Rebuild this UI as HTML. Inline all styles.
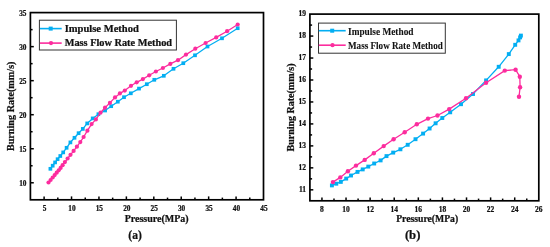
<!DOCTYPE html>
<html><head><meta charset="utf-8"><title>Burning rate vs pressure</title>
<style>
html,body{margin:0;padding:0;background:#fff;}
body{width:550px;height:247px;overflow:hidden;}
svg{display:block;}
text{font-family:'Liberation Serif', serif;font-weight:bold;fill:#111;stroke:#111;stroke-width:0.22px;}
.tl{font-size:7.3px;}
.al{font-size:9.4px;}
.lg{font-size:9.8px;}
.cap{font-size:11.5px;}
</style></head>
<body>
<svg width="550" height="247" viewBox="0 0 550 247">
<rect width="550" height="247" fill="#fff"/>
<line x1="44.11" y1="199.80" x2="44.11" y2="196.40" stroke="#000" stroke-width="1.5"/>
<line x1="57.82" y1="199.80" x2="57.82" y2="197.60" stroke="#000" stroke-width="1.5"/>
<line x1="71.54" y1="199.80" x2="71.54" y2="196.40" stroke="#000" stroke-width="1.5"/>
<line x1="85.25" y1="199.80" x2="85.25" y2="197.60" stroke="#000" stroke-width="1.5"/>
<line x1="98.96" y1="199.80" x2="98.96" y2="196.40" stroke="#000" stroke-width="1.5"/>
<line x1="112.67" y1="199.80" x2="112.67" y2="197.60" stroke="#000" stroke-width="1.5"/>
<line x1="126.38" y1="199.80" x2="126.38" y2="196.40" stroke="#000" stroke-width="1.5"/>
<line x1="140.09" y1="199.80" x2="140.09" y2="197.60" stroke="#000" stroke-width="1.5"/>
<line x1="153.81" y1="199.80" x2="153.81" y2="196.40" stroke="#000" stroke-width="1.5"/>
<line x1="167.52" y1="199.80" x2="167.52" y2="197.60" stroke="#000" stroke-width="1.5"/>
<line x1="181.23" y1="199.80" x2="181.23" y2="196.40" stroke="#000" stroke-width="1.5"/>
<line x1="194.94" y1="199.80" x2="194.94" y2="197.60" stroke="#000" stroke-width="1.5"/>
<line x1="208.65" y1="199.80" x2="208.65" y2="196.40" stroke="#000" stroke-width="1.5"/>
<line x1="222.36" y1="199.80" x2="222.36" y2="197.60" stroke="#000" stroke-width="1.5"/>
<line x1="236.08" y1="199.80" x2="236.08" y2="196.40" stroke="#000" stroke-width="1.5"/>
<line x1="249.79" y1="199.80" x2="249.79" y2="197.60" stroke="#000" stroke-width="1.5"/>
<line x1="30.40" y1="182.78" x2="33.80" y2="182.78" stroke="#000" stroke-width="1.5"/>
<line x1="30.40" y1="165.76" x2="32.60" y2="165.76" stroke="#000" stroke-width="1.5"/>
<line x1="30.40" y1="148.75" x2="33.80" y2="148.75" stroke="#000" stroke-width="1.5"/>
<line x1="30.40" y1="131.73" x2="32.60" y2="131.73" stroke="#000" stroke-width="1.5"/>
<line x1="30.40" y1="114.71" x2="33.80" y2="114.71" stroke="#000" stroke-width="1.5"/>
<line x1="30.40" y1="97.69" x2="32.60" y2="97.69" stroke="#000" stroke-width="1.5"/>
<line x1="30.40" y1="80.67" x2="33.80" y2="80.67" stroke="#000" stroke-width="1.5"/>
<line x1="30.40" y1="63.65" x2="32.60" y2="63.65" stroke="#000" stroke-width="1.5"/>
<line x1="30.40" y1="46.64" x2="33.80" y2="46.64" stroke="#000" stroke-width="1.5"/>
<line x1="30.40" y1="29.62" x2="32.60" y2="29.62" stroke="#000" stroke-width="1.5"/>
<rect x="30.4" y="12.6" width="233.10" height="187.20" fill="none" stroke="#000" stroke-width="1.7"/>
<text x="44.51" y="211.00" text-anchor="middle" class="tl" style="font-size:7.3px">5</text>
<text x="71.94" y="211.00" text-anchor="middle" class="tl" style="font-size:7.3px">10</text>
<text x="99.36" y="211.00" text-anchor="middle" class="tl" style="font-size:7.3px">15</text>
<text x="126.78" y="211.00" text-anchor="middle" class="tl" style="font-size:7.3px">20</text>
<text x="154.21" y="211.00" text-anchor="middle" class="tl" style="font-size:7.3px">25</text>
<text x="181.63" y="211.00" text-anchor="middle" class="tl" style="font-size:7.3px">30</text>
<text x="209.05" y="211.00" text-anchor="middle" class="tl" style="font-size:7.3px">35</text>
<text x="236.48" y="211.00" text-anchor="middle" class="tl" style="font-size:7.3px">40</text>
<text x="263.90" y="211.00" text-anchor="middle" class="tl" style="font-size:7.3px">45</text>
<text x="26.50" y="185.88" text-anchor="end" class="tl" style="font-size:7.3px">10</text>
<text x="26.50" y="151.85" text-anchor="end" class="tl" style="font-size:7.3px">15</text>
<text x="26.50" y="117.81" text-anchor="end" class="tl" style="font-size:7.3px">20</text>
<text x="26.50" y="83.77" text-anchor="end" class="tl" style="font-size:7.3px">25</text>
<text x="26.50" y="49.74" text-anchor="end" class="tl" style="font-size:7.3px">30</text>
<text x="26.50" y="15.70" text-anchor="end" class="tl" style="font-size:7.3px">35</text>
<path d="M50.40,168.80 L52.70,165.70 L55.10,162.40 L57.60,159.20 L60.30,156.00 L63.20,152.40 L66.60,147.80 L70.40,142.40 L74.50,137.80 L78.60,133.20 L82.80,128.90 L87.20,123.40 L92.70,118.40 L98.40,114.20 L105.10,110.50 L111.20,106.20 L117.80,101.70 L124.00,97.20 L130.80,93.30 L139.00,88.60 L146.80,84.20 L154.30,79.80 L163.80,75.80 L173.50,68.80 L183.30,63.20 L195.00,55.30 L207.50,46.50 L222.00,38.30 L237.70,28.20" fill="none" stroke="#03AEF2" stroke-width="1.3" stroke-linejoin="round"/>
<rect x="48.55" y="166.95" width="3.7" height="3.7" fill="#03AEF2"/>
<rect x="50.85" y="163.85" width="3.7" height="3.7" fill="#03AEF2"/>
<rect x="53.25" y="160.55" width="3.7" height="3.7" fill="#03AEF2"/>
<rect x="55.75" y="157.35" width="3.7" height="3.7" fill="#03AEF2"/>
<rect x="58.45" y="154.15" width="3.7" height="3.7" fill="#03AEF2"/>
<rect x="61.35" y="150.55" width="3.7" height="3.7" fill="#03AEF2"/>
<rect x="64.75" y="145.95" width="3.7" height="3.7" fill="#03AEF2"/>
<rect x="68.55" y="140.55" width="3.7" height="3.7" fill="#03AEF2"/>
<rect x="72.65" y="135.95" width="3.7" height="3.7" fill="#03AEF2"/>
<rect x="76.75" y="131.35" width="3.7" height="3.7" fill="#03AEF2"/>
<rect x="80.95" y="127.05" width="3.7" height="3.7" fill="#03AEF2"/>
<rect x="85.35" y="121.55" width="3.7" height="3.7" fill="#03AEF2"/>
<rect x="90.85" y="116.55" width="3.7" height="3.7" fill="#03AEF2"/>
<rect x="96.55" y="112.35" width="3.7" height="3.7" fill="#03AEF2"/>
<rect x="103.25" y="108.65" width="3.7" height="3.7" fill="#03AEF2"/>
<rect x="109.35" y="104.35" width="3.7" height="3.7" fill="#03AEF2"/>
<rect x="115.95" y="99.85" width="3.7" height="3.7" fill="#03AEF2"/>
<rect x="122.15" y="95.35" width="3.7" height="3.7" fill="#03AEF2"/>
<rect x="128.95" y="91.45" width="3.7" height="3.7" fill="#03AEF2"/>
<rect x="137.15" y="86.75" width="3.7" height="3.7" fill="#03AEF2"/>
<rect x="144.95" y="82.35" width="3.7" height="3.7" fill="#03AEF2"/>
<rect x="152.45" y="77.95" width="3.7" height="3.7" fill="#03AEF2"/>
<rect x="161.95" y="73.95" width="3.7" height="3.7" fill="#03AEF2"/>
<rect x="171.65" y="66.95" width="3.7" height="3.7" fill="#03AEF2"/>
<rect x="181.45" y="61.35" width="3.7" height="3.7" fill="#03AEF2"/>
<rect x="193.15" y="53.45" width="3.7" height="3.7" fill="#03AEF2"/>
<rect x="205.65" y="44.65" width="3.7" height="3.7" fill="#03AEF2"/>
<rect x="220.15" y="36.45" width="3.7" height="3.7" fill="#03AEF2"/>
<rect x="235.85" y="26.35" width="3.7" height="3.7" fill="#03AEF2"/>
<path d="M48.50,182.50 L50.60,180.00 L52.70,177.50 L54.70,175.10 L56.70,172.70 L58.70,170.30 L60.60,167.90 L62.60,165.20 L64.90,162.10 L67.60,158.50 L70.50,154.80 L73.60,150.90 L76.90,146.70 L80.30,142.10 L83.60,137.00 L87.40,130.70 L91.60,124.10 L95.90,119.40 L100.50,112.70 L105.00,107.70 L109.90,102.90 L115.00,97.40 L119.90,93.40 L124.80,90.60 L131.00,85.80 L136.70,82.30 L142.90,79.10 L149.20,75.30 L155.90,71.50 L162.90,68.00 L170.30,63.90 L178.00,60.20 L186.00,54.60 L195.30,48.70 L205.60,43.00 L216.20,37.40 L227.10,31.20 L237.70,24.50" fill="none" stroke="#FC2C9E" stroke-width="1.3" stroke-linejoin="round"/>
<circle cx="48.50" cy="182.50" r="2.1" fill="#FC2C9E"/>
<circle cx="50.60" cy="180.00" r="2.1" fill="#FC2C9E"/>
<circle cx="52.70" cy="177.50" r="2.1" fill="#FC2C9E"/>
<circle cx="54.70" cy="175.10" r="2.1" fill="#FC2C9E"/>
<circle cx="56.70" cy="172.70" r="2.1" fill="#FC2C9E"/>
<circle cx="58.70" cy="170.30" r="2.1" fill="#FC2C9E"/>
<circle cx="60.60" cy="167.90" r="2.1" fill="#FC2C9E"/>
<circle cx="62.60" cy="165.20" r="2.1" fill="#FC2C9E"/>
<circle cx="64.90" cy="162.10" r="2.1" fill="#FC2C9E"/>
<circle cx="67.60" cy="158.50" r="2.1" fill="#FC2C9E"/>
<circle cx="70.50" cy="154.80" r="2.1" fill="#FC2C9E"/>
<circle cx="73.60" cy="150.90" r="2.1" fill="#FC2C9E"/>
<circle cx="76.90" cy="146.70" r="2.1" fill="#FC2C9E"/>
<circle cx="80.30" cy="142.10" r="2.1" fill="#FC2C9E"/>
<circle cx="83.60" cy="137.00" r="2.1" fill="#FC2C9E"/>
<circle cx="87.40" cy="130.70" r="2.1" fill="#FC2C9E"/>
<circle cx="91.60" cy="124.10" r="2.1" fill="#FC2C9E"/>
<circle cx="95.90" cy="119.40" r="2.1" fill="#FC2C9E"/>
<circle cx="100.50" cy="112.70" r="2.1" fill="#FC2C9E"/>
<circle cx="105.00" cy="107.70" r="2.1" fill="#FC2C9E"/>
<circle cx="109.90" cy="102.90" r="2.1" fill="#FC2C9E"/>
<circle cx="115.00" cy="97.40" r="2.1" fill="#FC2C9E"/>
<circle cx="119.90" cy="93.40" r="2.1" fill="#FC2C9E"/>
<circle cx="124.80" cy="90.60" r="2.1" fill="#FC2C9E"/>
<circle cx="131.00" cy="85.80" r="2.1" fill="#FC2C9E"/>
<circle cx="136.70" cy="82.30" r="2.1" fill="#FC2C9E"/>
<circle cx="142.90" cy="79.10" r="2.1" fill="#FC2C9E"/>
<circle cx="149.20" cy="75.30" r="2.1" fill="#FC2C9E"/>
<circle cx="155.90" cy="71.50" r="2.1" fill="#FC2C9E"/>
<circle cx="162.90" cy="68.00" r="2.1" fill="#FC2C9E"/>
<circle cx="170.30" cy="63.90" r="2.1" fill="#FC2C9E"/>
<circle cx="178.00" cy="60.20" r="2.1" fill="#FC2C9E"/>
<circle cx="186.00" cy="54.60" r="2.1" fill="#FC2C9E"/>
<circle cx="195.30" cy="48.70" r="2.1" fill="#FC2C9E"/>
<circle cx="205.60" cy="43.00" r="2.1" fill="#FC2C9E"/>
<circle cx="216.20" cy="37.40" r="2.1" fill="#FC2C9E"/>
<circle cx="227.10" cy="31.20" r="2.1" fill="#FC2C9E"/>
<circle cx="237.70" cy="24.50" r="2.1" fill="#FC2C9E"/>
<rect x="39.4" y="20.2" width="137.0" height="29.8" fill="#fff" stroke="#333" stroke-width="1"/>
<line x1="39.9" y1="28.6" x2="61.7" y2="28.6" stroke="#03AEF2" stroke-width="1.6"/>
<rect x="48.7" y="26.6" width="4.0" height="4.0" fill="#03AEF2"/>
<text x="64.7" y="31.90" class="lg" style="font-size:9.8px;stroke-width:0.22px" textLength="74.2" lengthAdjust="spacingAndGlyphs">Impulse Method</text>
<line x1="39.9" y1="43.1" x2="61.7" y2="43.1" stroke="#FC2C9E" stroke-width="1.6"/>
<circle cx="51.0" cy="43.1" r="2.15" fill="#FC2C9E"/>
<text x="64.7" y="46.40" class="lg" style="font-size:9.8px;stroke-width:0.22px" textLength="107.4" lengthAdjust="spacingAndGlyphs">Mass Flow Rate Method</text>
<text transform="translate(14.2,106.3) rotate(-90)" text-anchor="middle" class="al" textLength="89.6" lengthAdjust="spacingAndGlyphs">Burning Rate(mm/s)</text>
<text x="124.7" y="221.7" class="al" textLength="64" lengthAdjust="spacingAndGlyphs">Pressure(MPa)</text>
<text x="128.3" y="239.3" class="cap" textLength="13.5" lengthAdjust="spacingAndGlyphs">(a)</text>
<line x1="321.95" y1="200.80" x2="321.95" y2="197.40" stroke="#000" stroke-width="1.5"/>
<line x1="333.99" y1="200.80" x2="333.99" y2="198.60" stroke="#000" stroke-width="1.5"/>
<line x1="346.04" y1="200.80" x2="346.04" y2="197.40" stroke="#000" stroke-width="1.5"/>
<line x1="358.09" y1="200.80" x2="358.09" y2="198.60" stroke="#000" stroke-width="1.5"/>
<line x1="370.14" y1="200.80" x2="370.14" y2="197.40" stroke="#000" stroke-width="1.5"/>
<line x1="382.18" y1="200.80" x2="382.18" y2="198.60" stroke="#000" stroke-width="1.5"/>
<line x1="394.23" y1="200.80" x2="394.23" y2="197.40" stroke="#000" stroke-width="1.5"/>
<line x1="406.28" y1="200.80" x2="406.28" y2="198.60" stroke="#000" stroke-width="1.5"/>
<line x1="418.33" y1="200.80" x2="418.33" y2="197.40" stroke="#000" stroke-width="1.5"/>
<line x1="430.37" y1="200.80" x2="430.37" y2="198.60" stroke="#000" stroke-width="1.5"/>
<line x1="442.42" y1="200.80" x2="442.42" y2="197.40" stroke="#000" stroke-width="1.5"/>
<line x1="454.47" y1="200.80" x2="454.47" y2="198.60" stroke="#000" stroke-width="1.5"/>
<line x1="466.52" y1="200.80" x2="466.52" y2="197.40" stroke="#000" stroke-width="1.5"/>
<line x1="478.56" y1="200.80" x2="478.56" y2="198.60" stroke="#000" stroke-width="1.5"/>
<line x1="490.61" y1="200.80" x2="490.61" y2="197.40" stroke="#000" stroke-width="1.5"/>
<line x1="502.66" y1="200.80" x2="502.66" y2="198.60" stroke="#000" stroke-width="1.5"/>
<line x1="514.71" y1="200.80" x2="514.71" y2="197.40" stroke="#000" stroke-width="1.5"/>
<line x1="526.75" y1="200.80" x2="526.75" y2="198.60" stroke="#000" stroke-width="1.5"/>
<line x1="309.90" y1="189.82" x2="313.30" y2="189.82" stroke="#000" stroke-width="1.5"/>
<line x1="309.90" y1="178.84" x2="312.10" y2="178.84" stroke="#000" stroke-width="1.5"/>
<line x1="309.90" y1="167.85" x2="313.30" y2="167.85" stroke="#000" stroke-width="1.5"/>
<line x1="309.90" y1="156.87" x2="312.10" y2="156.87" stroke="#000" stroke-width="1.5"/>
<line x1="309.90" y1="145.89" x2="313.30" y2="145.89" stroke="#000" stroke-width="1.5"/>
<line x1="309.90" y1="134.91" x2="312.10" y2="134.91" stroke="#000" stroke-width="1.5"/>
<line x1="309.90" y1="123.92" x2="313.30" y2="123.92" stroke="#000" stroke-width="1.5"/>
<line x1="309.90" y1="112.94" x2="312.10" y2="112.94" stroke="#000" stroke-width="1.5"/>
<line x1="309.90" y1="101.96" x2="313.30" y2="101.96" stroke="#000" stroke-width="1.5"/>
<line x1="309.90" y1="90.98" x2="312.10" y2="90.98" stroke="#000" stroke-width="1.5"/>
<line x1="309.90" y1="79.99" x2="313.30" y2="79.99" stroke="#000" stroke-width="1.5"/>
<line x1="309.90" y1="69.01" x2="312.10" y2="69.01" stroke="#000" stroke-width="1.5"/>
<line x1="309.90" y1="58.03" x2="313.30" y2="58.03" stroke="#000" stroke-width="1.5"/>
<line x1="309.90" y1="47.05" x2="312.10" y2="47.05" stroke="#000" stroke-width="1.5"/>
<line x1="309.90" y1="36.06" x2="313.30" y2="36.06" stroke="#000" stroke-width="1.5"/>
<line x1="309.90" y1="25.08" x2="312.10" y2="25.08" stroke="#000" stroke-width="1.5"/>
<rect x="309.9" y="14.1" width="228.90" height="186.70" fill="none" stroke="#000" stroke-width="1.7"/>
<text x="321.95" y="212.00" text-anchor="middle" class="tl" style="font-size:7.5px">8</text>
<text x="346.04" y="212.00" text-anchor="middle" class="tl" style="font-size:7.5px">10</text>
<text x="370.14" y="212.00" text-anchor="middle" class="tl" style="font-size:7.5px">12</text>
<text x="394.23" y="212.00" text-anchor="middle" class="tl" style="font-size:7.5px">14</text>
<text x="418.33" y="212.00" text-anchor="middle" class="tl" style="font-size:7.5px">16</text>
<text x="442.42" y="212.00" text-anchor="middle" class="tl" style="font-size:7.5px">18</text>
<text x="466.52" y="212.00" text-anchor="middle" class="tl" style="font-size:7.5px">20</text>
<text x="490.61" y="212.00" text-anchor="middle" class="tl" style="font-size:7.5px">22</text>
<text x="514.71" y="212.00" text-anchor="middle" class="tl" style="font-size:7.5px">24</text>
<text x="538.80" y="212.00" text-anchor="middle" class="tl" style="font-size:7.5px">26</text>
<text x="306.00" y="191.72" text-anchor="end" class="tl" style="font-size:7.5px">11</text>
<text x="306.00" y="169.75" text-anchor="end" class="tl" style="font-size:7.5px">12</text>
<text x="306.00" y="147.79" text-anchor="end" class="tl" style="font-size:7.5px">13</text>
<text x="306.00" y="125.82" text-anchor="end" class="tl" style="font-size:7.5px">14</text>
<text x="306.00" y="103.86" text-anchor="end" class="tl" style="font-size:7.5px">15</text>
<text x="306.00" y="81.89" text-anchor="end" class="tl" style="font-size:7.5px">16</text>
<text x="306.00" y="59.93" text-anchor="end" class="tl" style="font-size:7.5px">17</text>
<text x="306.00" y="37.96" text-anchor="end" class="tl" style="font-size:7.5px">18</text>
<text x="306.00" y="16.00" text-anchor="end" class="tl" style="font-size:7.5px">19</text>
<path d="M331.90,185.40 L336.30,183.70 L340.80,181.90 L346.20,178.60 L351.00,175.50 L357.50,171.90 L362.70,169.40 L368.30,166.60 L374.20,163.50 L380.60,160.40 L386.50,156.10 L393.20,152.60 L400.40,149.30 L407.70,144.80 L415.50,139.20 L423.10,133.60 L429.60,128.50 L435.60,123.30 L442.30,118.00 L450.20,112.30 L461.00,104.20 L473.00,94.00 L486.10,80.40 L498.70,66.80 L508.80,54.10 L515.20,44.80 L518.50,40.40 L520.10,37.40 L520.90,35.60" fill="none" stroke="#03AEF2" stroke-width="1.3" stroke-linejoin="round"/>
<rect x="329.95" y="183.45" width="3.9" height="3.9" fill="#03AEF2"/>
<rect x="334.35" y="181.75" width="3.9" height="3.9" fill="#03AEF2"/>
<rect x="338.85" y="179.95" width="3.9" height="3.9" fill="#03AEF2"/>
<rect x="344.25" y="176.65" width="3.9" height="3.9" fill="#03AEF2"/>
<rect x="349.05" y="173.55" width="3.9" height="3.9" fill="#03AEF2"/>
<rect x="355.55" y="169.95" width="3.9" height="3.9" fill="#03AEF2"/>
<rect x="360.75" y="167.45" width="3.9" height="3.9" fill="#03AEF2"/>
<rect x="366.35" y="164.65" width="3.9" height="3.9" fill="#03AEF2"/>
<rect x="372.25" y="161.55" width="3.9" height="3.9" fill="#03AEF2"/>
<rect x="378.65" y="158.45" width="3.9" height="3.9" fill="#03AEF2"/>
<rect x="384.55" y="154.15" width="3.9" height="3.9" fill="#03AEF2"/>
<rect x="391.25" y="150.65" width="3.9" height="3.9" fill="#03AEF2"/>
<rect x="398.45" y="147.35" width="3.9" height="3.9" fill="#03AEF2"/>
<rect x="405.75" y="142.85" width="3.9" height="3.9" fill="#03AEF2"/>
<rect x="413.55" y="137.25" width="3.9" height="3.9" fill="#03AEF2"/>
<rect x="421.15" y="131.65" width="3.9" height="3.9" fill="#03AEF2"/>
<rect x="427.65" y="126.55" width="3.9" height="3.9" fill="#03AEF2"/>
<rect x="433.65" y="121.35" width="3.9" height="3.9" fill="#03AEF2"/>
<rect x="440.35" y="116.05" width="3.9" height="3.9" fill="#03AEF2"/>
<rect x="448.25" y="110.35" width="3.9" height="3.9" fill="#03AEF2"/>
<rect x="459.05" y="102.25" width="3.9" height="3.9" fill="#03AEF2"/>
<rect x="471.05" y="92.05" width="3.9" height="3.9" fill="#03AEF2"/>
<rect x="484.15" y="78.45" width="3.9" height="3.9" fill="#03AEF2"/>
<rect x="496.75" y="64.85" width="3.9" height="3.9" fill="#03AEF2"/>
<rect x="506.85" y="52.15" width="3.9" height="3.9" fill="#03AEF2"/>
<rect x="513.25" y="42.85" width="3.9" height="3.9" fill="#03AEF2"/>
<rect x="516.55" y="38.45" width="3.9" height="3.9" fill="#03AEF2"/>
<rect x="518.15" y="35.45" width="3.9" height="3.9" fill="#03AEF2"/>
<rect x="518.95" y="33.65" width="3.9" height="3.9" fill="#03AEF2"/>
<path d="M332.90,182.10 L340.30,177.40 L347.90,171.20 L356.00,165.60 L364.70,159.90 L373.80,153.30 L383.70,146.10 L393.60,139.30 L404.70,132.20 L416.80,124.30 L428.00,118.60 L437.50,115.50 L449.20,109.10 L466.00,98.30 L486.10,82.80 L504.80,70.60 L515.60,69.70 L519.80,76.70 L520.10,87.20 L519.00,96.80" fill="none" stroke="#FC2C9E" stroke-width="1.3" stroke-linejoin="round"/>
<circle cx="332.90" cy="182.10" r="2.2" fill="#FC2C9E"/>
<circle cx="340.30" cy="177.40" r="2.2" fill="#FC2C9E"/>
<circle cx="347.90" cy="171.20" r="2.2" fill="#FC2C9E"/>
<circle cx="356.00" cy="165.60" r="2.2" fill="#FC2C9E"/>
<circle cx="364.70" cy="159.90" r="2.2" fill="#FC2C9E"/>
<circle cx="373.80" cy="153.30" r="2.2" fill="#FC2C9E"/>
<circle cx="383.70" cy="146.10" r="2.2" fill="#FC2C9E"/>
<circle cx="393.60" cy="139.30" r="2.2" fill="#FC2C9E"/>
<circle cx="404.70" cy="132.20" r="2.2" fill="#FC2C9E"/>
<circle cx="416.80" cy="124.30" r="2.2" fill="#FC2C9E"/>
<circle cx="428.00" cy="118.60" r="2.2" fill="#FC2C9E"/>
<circle cx="437.50" cy="115.50" r="2.2" fill="#FC2C9E"/>
<circle cx="449.20" cy="109.10" r="2.2" fill="#FC2C9E"/>
<circle cx="466.00" cy="98.30" r="2.2" fill="#FC2C9E"/>
<circle cx="486.10" cy="82.80" r="2.2" fill="#FC2C9E"/>
<circle cx="504.80" cy="70.60" r="2.2" fill="#FC2C9E"/>
<circle cx="515.60" cy="69.70" r="2.2" fill="#FC2C9E"/>
<circle cx="519.80" cy="76.70" r="2.2" fill="#FC2C9E"/>
<circle cx="520.10" cy="87.20" r="2.2" fill="#FC2C9E"/>
<circle cx="519.00" cy="96.80" r="2.2" fill="#FC2C9E"/>
<rect x="318.5" y="23.1" width="126.8" height="30.1" fill="#fff" stroke="#333" stroke-width="1"/>
<line x1="318.8" y1="30.7" x2="345.7" y2="30.7" stroke="#03AEF2" stroke-width="1.6"/>
<rect x="330.2" y="28.7" width="4.0" height="4.0" fill="#03AEF2"/>
<text x="348.0" y="34.80" class="lg" style="font-size:9.4px;stroke-width:0.08px" textLength="65.5" lengthAdjust="spacingAndGlyphs">Impulse Method</text>
<line x1="318.8" y1="45.2" x2="345.7" y2="45.2" stroke="#FC2C9E" stroke-width="1.6"/>
<circle cx="332.5" cy="45.2" r="2.15" fill="#FC2C9E"/>
<text x="348.0" y="49.30" class="lg" style="font-size:9.4px;stroke-width:0.08px" textLength="94.8" lengthAdjust="spacingAndGlyphs">Mass Flow Rate Method</text>
<text transform="translate(294.0,107.5) rotate(-90)" text-anchor="middle" class="al" textLength="88" lengthAdjust="spacingAndGlyphs">Burning Rate(mm/s)</text>
<text x="396.2" y="222.0" class="al" textLength="62" lengthAdjust="spacingAndGlyphs">Pressure(MPa)</text>
<text x="404.9" y="239.3" class="cap" textLength="15.5" lengthAdjust="spacingAndGlyphs">(b)</text>
</svg>
</body></html>
